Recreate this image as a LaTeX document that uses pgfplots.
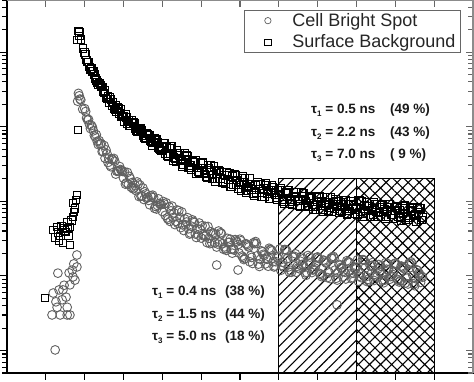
\documentclass[border=0pt]{standalone}
\usepackage{pgfplots}
\pgfplotsset{compat=1.18}
\usepackage{pgfplotstable}
\usepackage{fontspec}
\setmainfont{Liberation Sans}
\usetikzlibrary{patterns.meta}

\pgfplotstableread{
x y
0.98 51
1.19 413
1.24 330
1.29 453
1.31 380
1.34 300
1.37 343
1.40 470
1.44 440
1.44 277
1.48 410
1.52 388
1.55 529
1.56 430
1.58 350
1.62 453
1.62 260
1.66 560
1.70 617
1.70 950
1.72 720
1.75 800
1.78 1043
1.80 1216
1.83 9040
1.82 146000
1.84 192000
1.86 185000
1.87 165000
1.90 148000
1.95 112000
2.00 100000
2.05 79000
2.10 74300
2.15 58300
2.20 55000
2.25 50000
2.30 42100
2.35 37000
2.40 36500
2.45 34200
2.50 28500
2.55 24400
2.60 25400
2.65 24700
2.70 19100
2.75 17400
2.80 19300
2.85 18000
2.90 15100
2.95 13600
3.00 13900
3.05 14600
3.10 10900
3.15 10300
3.20 12200
3.25 11400
3.30 9300
3.35 8500
3.40 9350
3.45 9700
3.50 7600
3.55 6940
3.60 8100
3.65 7810
3.70 6560
3.75 5660
3.80 6990
3.85 6720
3.90 5190
3.95 4880
4.00 5430
4.05 6040
4.10 5260
4.15 3990
4.20 4350
4.25 5400
4.30 3890
4.35 3370
4.40 4360
4.45 4410
4.50 3640
4.55 3100
4.60 3660
4.65 4070
4.70 3030
4.75 2650
4.80 3350
4.85 3520
4.90 2800
4.95 2410
5.00 2790
5.05 3310
5.10 2340
5.15 2060
5.20 2790
5.25 3060
5.30 2250
5.35 1840
5.40 2370
5.45 2630
5.50 2020
5.55 1790
5.60 2270
5.65 2490
5.70 1940
5.75 1570
5.80 2150
5.85 2330
5.90 1660
5.95 1460
6.00 1800
6.05 2060
6.10 1820
6.15 1300
6.20 1560
6.25 2030
6.30 1440
6.35 1270
6.40 1670
6.45 1810
6.50 1440
6.55 1140
6.60 1490
6.65 1730
6.70 1260
6.75 1080
6.80 1430
6.85 1530
6.90 1220
6.95 1040
7.00 1240
7.05 1520
7.10 1070
7.15 924
7.20 1300
7.25 1410
7.30 1070
7.35 911
7.40 1150
7.45 1320
7.50 1010
7.55 849
7.60 1160
7.65 1300
7.70 1010
7.75 841
7.80 1130
7.85 1180
7.90 890
7.95 782
8.00 983
8.05 1170
8.10 1010
8.15 730
8.20 881
8.25 1150
8.30 830
8.35 732
8.40 985
8.45 1060
8.50 861
8.55 698
8.60 908
8.65 1050
8.70 787
8.75 672
8.80 913
8.85 1000
8.90 801
8.95 680
9.00 832
9.05 1020
9.10 725
9.15 632
9.20 892
9.25 967
9.30 746
9.35 632
9.40 816
9.45 961
9.50 722
9.55 625
9.60 835
9.65 899
9.70 734
9.75 595
9.80 838
9.85 908
9.90 666
9.95 588
10.00 744
10.05 870
10.10 771
10.15 558
10.20 675
10.25 875
10.30 637
10.35 570
10.40 759
10.45 815
10.50 665
10.55 540
10.60 704
10.65 805
10.70 606
2.025 92900
2.125 63600
2.225 54800
2.325 39000
2.425 34300
2.525 30400
2.625 21000
2.725 21300
2.825 16100
2.925 17000
3.025 11800
3.125 12200
3.225 11600
3.325 8890
3.425 9230
3.525 7110
3.625 8060
3.725 6300
3.825 6550
3.925 5150
4.025 6000
4.125 4060
4.225 5400
4.325 3690
4.425 4130
4.525 2920
4.625 4200
4.725 3010
4.825 3370
4.925 2480
5.025 3220
5.125 2130
5.225 2580
5.325 2930
5.425 2030
5.525 2470
5.625 1730
5.725 2380
5.825 1670
5.925 1930
6.025 1400
6.125 2060
6.225 1510
6.325 1720
6.425 1300
6.525 1720
6.625 1160
6.725 1410
6.825 1620
6.925 1130
7.025 1400
7.125 1000
7.225 1390
7.325 994
7.425 1170
7.525 864
7.625 1290
7.725 958
7.825 1110
7.925 845
8.025 1130
8.125 771
8.225 960
8.325 1130
8.425 802
8.525 1010
8.625 724
8.725 1020
8.825 741
8.925 881
9.025 658
9.125 991
9.225 745
9.325 871
9.425 673
9.525 912
9.625 626
9.725 785
9.825 925
9.925 663
10.025 836
10.125 603
10.225 850
10.325 613
10.425 728
10.525 542
10.625 814
2.075 74200
2.175 60700
2.275 44200
2.375 38700
2.475 29700
2.575 23600
2.675 23200
2.775 16800
2.875 17900
2.975 13700
3.075 13300
3.175 10300
3.275 11100
3.375 8670
3.475 8880
3.575 7010
3.675 7690
3.775 6050
3.875 6130
3.975 4830
4.075 4370
4.175 5230
4.275 3520
4.375 4810
4.475 3540
4.575 4440
4.675 2840
4.775 3400
4.875 2350
4.975 3250
5.075 2420
5.175 3070
5.275 2010
5.375 2360
5.475 2510
5.575 1830
5.675 2260
5.775 1570
5.875 2210
5.975 1670
6.075 2140
6.175 1410
6.275 1720
6.375 1210
6.475 1720
6.575 1300
6.675 1670
6.775 1100
6.875 1310
6.975 1410
7.075 1050
7.175 1320
7.275 932
7.375 1330
7.475 1030
7.575 1340
7.675 888
7.775 1100
7.875 786
7.975 1130
8.075 864
8.175 1130
8.275 760
8.375 917
8.475 1010
8.575 756
8.675 961
8.775 687
8.875 996
8.975 777
9.075 1020
9.175 686
9.275 860
9.375 622
9.475 902
9.575 699
9.675 918
9.775 623
9.875 757
9.975 834
10.075 629
10.175 799
10.275 569
10.375 823
10.475 641
10.575 840
10.675 563
}\sqdata

\pgfplotstableread{
x y
1.16 30
1.37 30
1.55 30
1.62 30
1.24 10.2
1.31 109
1.19 59
1.26 45
1.29 38
1.34 65
1.42 48
1.44 65
1.47 75
1.52 52
1.55 38
1.60 110
1.62 76
1.68 120
1.70 97
1.72 145
1.75 88
1.80 132
1.80 191
1.82 22000
1.84 28000
1.86 26000
1.88 23500
1.90 22900
1.95 17200
2.00 17500
2.05 13100
2.10 12500
2.15 9450
2.20 9830
2.25 7630
2.30 7820
2.35 5770
2.40 5870
2.45 4640
2.50 5600
2.55 4890
2.60 3320
2.65 3060
2.70 3710
2.75 3760
2.80 2320
2.85 2560
2.90 2930
2.95 2580
3.00 2050
3.05 1700
3.10 2440
3.15 2160
3.20 1540
3.25 1470
3.30 1630
3.35 1820
3.40 1160
3.45 1170
3.50 1510
3.55 1340
3.60 1100
3.65 1030
3.70 1190
3.75 1210
3.80 806
3.85 790
3.90 1080
3.95 901
4.00 732
4.05 920
4.10 955
4.15 574
4.20 538
4.25 863
4.30 701
4.35 539
4.40 506
4.45 612
4.50 721
4.55 407
4.60 485
4.65 604
4.70 364
4.75 464
4.80 538
4.85 365
4.90 427
4.95 512
5.00 322
5.05 355
5.10 463
5.15 280
5.20 320
5.25 392
5.30 377
5.35 278
5.40 244
5.40 140
5.45 400
5.50 380
5.55 271
5.60 245
5.65 220
5.70 281
5.75 311
5.80 202
5.85 222
5.90 294
5.95 264
5.95 120
6.00 311
6.05 185
6.10 166
6.15 271
6.20 253
6.25 155
6.30 177
6.35 279
6.40 289
6.45 187
6.50 134
6.55 217
6.60 195
6.65 145
6.70 167
6.75 235
6.80 224
6.85 155
6.90 136
6.95 180
7.00 185
7.05 119
7.10 153
7.15 226
7.20 220
7.25 132
7.30 119
7.35 181
7.40 183
7.45 112
7.50 128
7.55 158
7.60 143
7.65 133
7.70 102
7.75 188
7.80 179
7.85 111
7.90 122
7.95 138
8.00 180
8.05 108
8.10 98
8.15 163
8.20 153
8.25 95
8.30 110
8.35 175
8.40 183
8.45 120
8.50 88
8.50 41
8.55 143
8.60 130
8.65 97
8.70 112
8.75 160
8.80 154
8.85 107
8.90 95
8.95 127
9.00 132
9.05 85
9.10 110
9.15 165
9.20 162
9.25 98
9.30 90
9.35 137
9.40 139
9.45 87
9.50 100
9.55 124
9.60 113
9.65 105
9.70 81
9.75 151
9.80 146
9.85 90
9.90 100
9.95 113
10.00 149
10.05 90
10.10 83
10.15 136
10.20 129
10.25 80
10.30 93
10.35 148
10.40 155
10.45 102
10.50 74
10.55 121
10.60 109
10.65 82
10.70 96
2.025 16000
2.125 10700
2.225 8830
2.325 6380
2.425 5940
2.525 3790
2.625 3775
2.725 3580
2.825 2530
2.925 2670
3.025 2490
3.125 1690
3.225 1790
3.325 1390
3.425 1650
3.525 1060
3.625 1135
3.725 1140
3.825 855
3.925 937
2.075 12300
2.175 10400
2.275 7280
2.375 6510
2.475 4660
2.575 4350
2.675 2910
2.775 3440
2.875 2560
2.975 2520
3.075 1770
3.175 2020
3.275 1520
3.375 1705
3.475 1180
3.575 1260
3.675 900
3.775 1130
3.875 880
3.975 906
4.025 995
4.125 600
4.225 745
4.325 488
4.425 750
4.525 483
4.625 528
4.725 377
4.825 520
4.925 355
5.025 472
5.125 346
5.225 271
5.325 368
5.425 268
5.525 367
5.625 231
5.725 283
5.825 230
5.925 286
4.075 649
4.175 845
4.275 605
4.375 768
4.475 445
4.575 582
4.675 429
4.775 565
4.875 328
4.975 424
5.075 342
5.175 460
5.275 276
5.375 361
5.475 284
5.575 228
5.675 319
5.775 228
5.875 307
5.975 203
6.025 296
6.125 171
6.225 244
6.325 147
6.425 272
6.525 167
6.625 189
6.725 135
6.825 217
6.925 155
7.025 230
7.125 131
7.225 172
7.325 112
7.425 198
7.525 125
7.625 170
7.725 111
7.825 148
7.925 128
8.025 172
8.125 102
8.225 148
8.325 92
8.425 174
8.525 110
8.625 125
8.725 91
8.825 150
8.925 109
9.025 164
9.125 95
9.225 128
9.325 85
9.425 152
9.525 97
9.625 136
9.725 88
9.825 121
9.925 105
10.025 143
10.125 86
10.225 125
10.325 78
10.425 148
10.525 92
10.625 106
6.075 178
6.175 264
6.275 187
6.375 271
6.475 144
6.575 211
6.675 173
6.775 227
6.875 132
6.975 174
7.075 138
7.175 224
7.275 112
7.375 178
7.475 135
7.575 181
7.675 110
7.775 153
7.875 120
7.975 177
8.075 105
8.175 159
8.275 115
8.375 171
8.475 93
8.575 139
8.675 116
8.775 154
8.875 92
8.975 124
9.075 99
9.175 165
9.275 84
9.375 135
9.475 105
9.575 142
9.675 87
9.775 123
9.875 98
9.975 145
10.075 88
10.175 133
10.275 97
10.375 144
10.475 78
10.575 118
10.675 99
}\cidata

\newcommand\sub[1]{\raisebox{-0.45ex}{\fontsize{8}{8}\selectfont #1}}

\begin{document}
\begin{tikzpicture}[x=1pt,y=1pt]
\begin{axis}[
  at={(0,0)}, anchor=south west,
  scale only axis, width=466pt, height=373pt,
  xmin=0, xmax=12, ymin=5, ymax=5e5, ymode=log,
  xtick={1,2,...,11}, xticklabels={}, yticklabels={},
  xtick pos=left, ytick pos=left,
  tick align=outside,
  major tick length=7pt, minor tick length=5pt,
  tick style={black, line width=1.1pt},
  axis line style={black, line width=1.5pt},
  legend style={at={(0.974,0.972)}, anchor=north east, draw=gray!80!black, line width=0.9pt,
    font=\fontsize{18}{21}\selectfont, inner xsep=3pt, inner ysep=0.5pt, row sep=3pt,
    text=black!85},
  legend cell align=left,
  legend image code/.code={\path (0pt,0pt) (42pt,0pt); \draw[#1, mark size=3.2pt, line width=0.7pt] plot coordinates {(20pt,0pt)};},
]
\addplot[only marks, mark=o, mark size=4.4pt, draw=black!62, line width=0.9pt] table {\cidata};
\addlegendentry{Cell Bright Spot}
\addplot[only marks, mark=square, mark size=3.8pt, draw=black, line width=0.85pt] table {\sqdata};
\addlegendentry{Surface Background}
\addplot[forget plot, draw=black, line width=1.2pt, pattern={Lines[angle=45,distance=7.2pt,line width=1.1pt]}]
  coordinates {(7,5) (7,2000) (9,2000) (9,5) (7,5)};
\addplot[forget plot, draw=black, line width=1.2pt, pattern={Hatch[angle=45,distance=7.8pt,line width=1.1pt]}]
  coordinates {(9,5) (9,2000) (11,2000) (11,5) (9,5)};
\end{axis}
\begin{axis}[
  at={(0,0)}, anchor=south west,
  scale only axis, width=466pt, height=373pt,
  xmin=0, xmax=12, ymin=5, ymax=5e5, ymode=log,
  xtick={1,2,...,11}, xticklabels={}, yticklabels={},
  xtick pos=right, ytick pos=right,
  tick align=inside,
  major tick length=7pt, minor tick length=5pt,
  tick style={black!60, line width=1.1pt},
  axis line style={draw=none},
]
\end{axis}
\draw[black!45, line width=1.5pt] (0,373) -- (466,373) -- (466,0);
\begin{scope}[font=\fontsize{13.5}{16}\selectfont\bfseries, text=black!90]
\node[anchor=west, inner sep=0pt] at (304,263) {τ\sub{1} = 0.5 ns};
\node[anchor=west, inner sep=0pt] at (304,240) {τ\sub{2} = 2.2 ns};
\node[anchor=west, inner sep=0pt] at (304,218) {τ\sub{3} = 7.0 ns};
\node[anchor=west, inner sep=0pt] at (383,263) {(49 \%)};
\node[anchor=west, inner sep=0pt] at (383,240) {(43 \%)};
\node[anchor=west, inner sep=0pt] at (383,218) {( 9 \%)};
\node[anchor=west, inner sep=0pt] at (145,81) {τ\sub{1} = 0.4 ns};
\node[anchor=west, inner sep=0pt] at (145,58) {τ\sub{2} = 1.5 ns};
\node[anchor=west, inner sep=0pt] at (145,36) {τ\sub{3} = 5.0 ns};
\node[anchor=west, inner sep=0pt] at (218,81) {(38 \%)};
\node[anchor=west, inner sep=0pt] at (218,58) {(44 \%)};
\node[anchor=west, inner sep=0pt] at (218,36) {(18 \%)};
\end{scope}
\pgfresetboundingbox
\useasboundingbox (-7,-8) rectangle (467,373);
\end{tikzpicture}
\end{document}
